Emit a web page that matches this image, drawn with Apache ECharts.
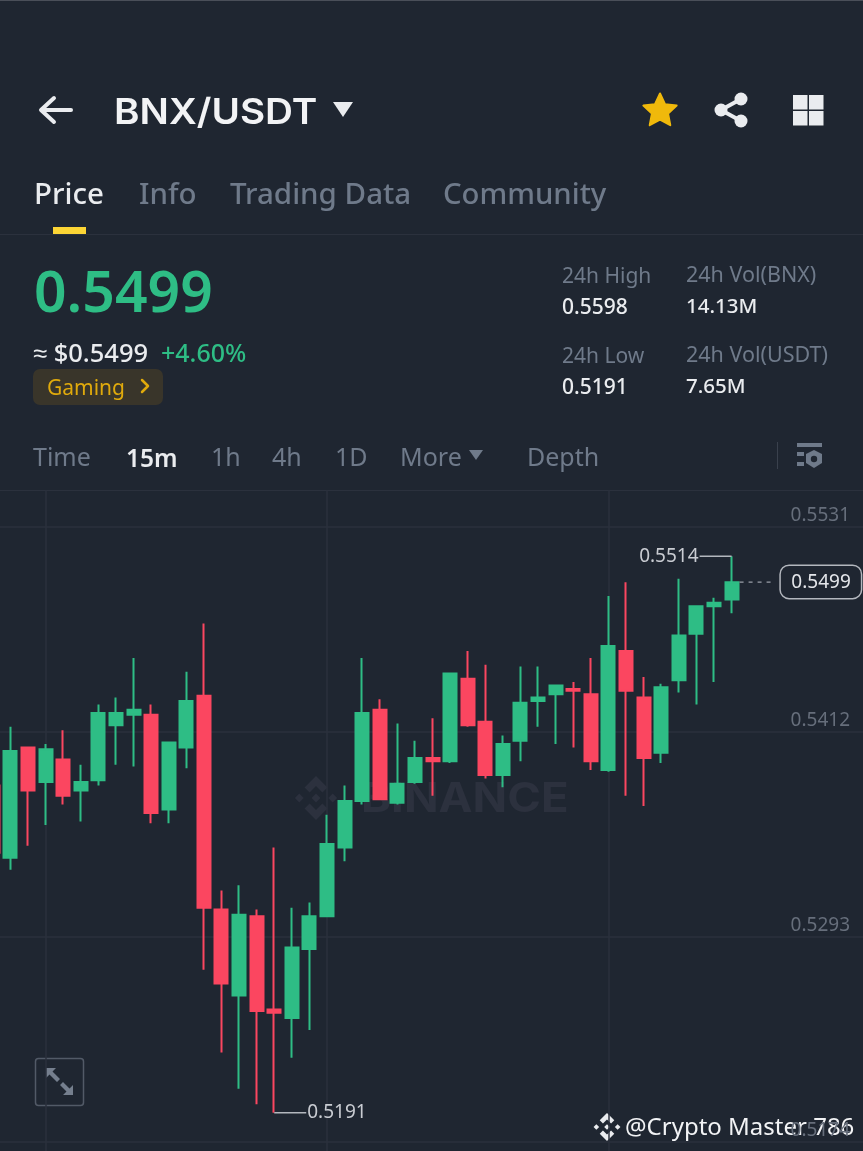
<!DOCTYPE html>
<html>
<head>
<meta charset="utf-8">
<style>
html, body { margin: 0; padding: 0; background: #1f2631; }
#main { width: 863px; height: 1151px; }
</style>
<script src="https://cdn.jsdelivr.net/npm/echarts@6/dist/echarts.min.js"></script>
</head>
<body>
<div id="main"></div>
<script>
// candles, oldest first (prices)
var opens = [0.5381, 0.5339, 0.5403, 0.5383, 0.5396, 0.5378, 0.5384, 0.5416, 0.5422, 0.5422, 0.5367,
    0.5403, 0.5433, 0.5309, 0.5259, 0.5305, 0.5251, 0.5246, 0.5286, 0.5305, 0.5345, 0.5372, 0.5425,
    0.5371, 0.5383, 0.5397, 0.5395, 0.5443, 0.5418, 0.5387, 0.5407, 0.5430, 0.5434, 0.5437, 0.5434,
    0.5390, 0.5459, 0.5432, 0.5400, 0.5442, 0.5469, 0.5485, 0.5489];
var closes = [0.5342, 0.5401, 0.5378, 0.5402, 0.5375, 0.5383, 0.5423, 0.5423, 0.5425, 0.5365, 0.5406,
    0.5430, 0.5310, 0.5266, 0.5306, 0.5250, 0.5249, 0.5287, 0.5305, 0.5347, 0.5372, 0.5423, 0.5373,
    0.5382, 0.5397, 0.5395, 0.5446, 0.5416, 0.5387, 0.5405, 0.5429, 0.5432, 0.5439, 0.5436, 0.5395,
    0.5462, 0.5436, 0.5397, 0.5438, 0.5468, 0.5485, 0.5487, 0.5499];
var lows = [0.5339, 0.5332, 0.5346, 0.5358, 0.5370, 0.5360, 0.5381, 0.5393, 0.5392, 0.5359, 0.5359,
    0.5391, 0.5274, 0.5226, 0.5205, 0.5196, 0.5191, 0.5223, 0.5239, 0.5305, 0.5337, 0.5370, 0.5373,
    0.5370, 0.5382, 0.5375, 0.5394, 0.5415, 0.5385, 0.5380, 0.5395, 0.5415, 0.5405, 0.5403, 0.5390,
    0.5389, 0.5375, 0.5369, 0.5394, 0.5435, 0.5428, 0.5441, 0.5481];
var highs = [0.5384, 0.5415, 0.5403, 0.5405, 0.5413, 0.5393, 0.5428, 0.5432, 0.5455, 0.5428, 0.5406,
    0.5447, 0.5475, 0.5320, 0.5323, 0.5309, 0.5345, 0.5310, 0.5313, 0.5364, 0.5381, 0.5455, 0.5431,
    0.5417, 0.5407, 0.5420, 0.5446, 0.5459, 0.5451, 0.5410, 0.5450, 0.5450, 0.5439, 0.5441, 0.5455,
    0.5491, 0.5499, 0.5444, 0.5440, 0.5501, 0.5485, 0.5490, 0.5514];
var priceTicks = [0.5531, 0.5412, 0.5293, 0.5174];
var priceMin = 0.51688;
var priceMax = 0.55525;
var timeLines = [3, 19, 35];
var slotCount = 50;
var lastPrice = 0.5499;

var bg = '#1f2631', line = '#2b313d', green = '#2ebd85', red = '#fb4660';
var white = '#eaecef', grey = '#6f7a8a', font = '"Noto Sans", sans-serif', wide = 'Inter, sans-serif';

var slots = [];
for (var s = 0; s < slotCount; s++) slots.push(s);

var candles = opens.map(function (o, i) {
    return [o, closes[i], lows[i], highs[i]];
});
var lastIdx = opens.length - 1;
var lowIdx = lows.indexOf(Math.min.apply(null, lows));
var highIdx = highs.indexOf(Math.max.apply(null, highs));

// text placed by its centre line
function txt(t, x, y, size, color, weight, family, stretch) {
    return {
        type: 'text', silent: true, x: x, y: y, scaleX: stretch || 1,
        style: { text: t, fontFamily: family || font, fontSize: size, fontWeight: weight || 400, fill: color, verticalAlign: 'middle' }
    };
}
function box(x, y, w, h, fill, r) {
    return { type: 'rect', silent: true, shape: { x: x, y: y, width: w, height: h, r: r || 0 }, style: { fill: fill } };
}
function poly(points, fill) {
    return { type: 'polygon', silent: true, shape: { points: points }, style: { fill: fill } };
}
function stroke(points, color, w) {
    return { type: 'polyline', silent: true, shape: { points: points }, style: { stroke: color, lineWidth: w, fill: null, lineCap: 'round', lineJoin: 'round' } };
}
function circle(x, y, r, fill) {
    return { type: 'circle', silent: true, shape: { cx: x, cy: y, r: r }, style: { fill: fill } };
}
// binance mark: middle diamond, two side diamonds, two chevrons
function logo(cx, cy, r, color) {
    function p(list) {
        return poly(list.map(function (q) { return [cx + q[0] * r, cy + q[1] * r]; }), color);
    }
    var d = 0.2;
    return [
        p([[0, -d], [d, 0], [0, d], [-d, 0]]),
        p([[-0.76, -d], [-0.76 + d, 0], [-0.76, d], [-0.76 - d, 0]]),
        p([[0.76, -d], [0.76 + d, 0], [0.76, d], [0.76 - d, 0]]),
        p([[0, -1], [0.52, -0.48], [0.29, -0.25], [0, -0.54], [-0.29, -0.25], [-0.52, -0.48]]),
        p([[0, 1], [0.52, 0.48], [0.29, 0.25], [0, 0.54], [-0.29, 0.25], [-0.52, 0.48]])
    ];
}
function star(cx, cy, R, r) {
    var pts = [];
    for (var i = 0; i < 10; i++) {
        var a = -Math.PI / 2 + i * Math.PI / 5, d = i % 2 ? r : R;
        pts.push([cx + d * Math.cos(a), cy + d * Math.sin(a)]);
    }
    return pts;
}

var ui = [
    box(0, 0, 863, 1, '#4a4f59'),
    // header
    stroke([[71, 110], [42, 110]], white, 4),
    stroke([[54, 98], [41, 110], [54, 122]], white, 4),
    txt('BNX/USDT', 114, 113, 36, '#f2f3f5', 600, wide, 1.075),
    poly([[333, 102], [353, 102], [343, 117]], white),
    { type: 'polygon', silent: true, shape: { points: star(660, 111, 17.5, 8.5) }, style: { fill: '#f0b90b', stroke: '#f0b90b', lineWidth: 2, lineJoin: 'round' } },
    stroke([[741, 99], [721, 110], [741, 121]], white, 4),
    circle(741, 99, 6.5, white), circle(721, 110, 6.5, white), circle(741, 121, 6.5, white),
    box(793, 95, 14.5, 14.5, white), box(809, 95, 14.5, 14.5, white),
    box(793, 111, 14.5, 14.5, white), box(809, 111, 14.5, 14.5, white),
    // tabs
    txt('Price', 34, 196, 29.5, white, 500),
    txt('Info', 139, 196, 29.5, grey, 500),
    txt('Trading Data', 230, 196, 29.5, grey, 500),
    txt('Community', 443, 196, 29.3, grey, 500),
    box(53, 227, 33, 7, '#fcd535'),
    box(0, 234, 863, 1, line),
    // price block
    txt('0.5499', 34, 296, 57, green, 600),
    txt('≈ $0.5499', 33, 355, 25.5, white, 500),
    txt('+4.60%', 161, 355, 25, green, 500),
    box(33, 369, 130, 36, '#39352a', 7),
    txt('Gaming', 47, 389, 21, '#e0aa0c', 400),
    stroke([[142, 380], [148, 386], [142, 392]], '#e0aa0c', 2.5),
    // 24h stats
    txt('24h High', 562, 277, 21, grey, 400),
    txt('0.5598', 562, 308, 21, white, 500),
    txt('24h Vol(BNX)', 686, 276, 21.5, grey, 400),
    txt('14.13M', 686, 307, 20.5, white, 500),
    txt('24h Low', 562, 357, 21, grey, 400),
    txt('0.5191', 562, 388, 21, white, 500),
    txt('24h Vol(USDT)', 686, 356, 21.5, grey, 400),
    txt('7.65M', 686, 387, 20.5, white, 500),
    // interval row
    txt('Time', 33, 459, 25, grey, 400),
    txt('15m', 126, 460, 24.5, white, 600),
    txt('1h', 211, 459, 25, grey, 400),
    txt('4h', 272, 459, 25, grey, 400),
    txt('1D', 335, 459, 25, grey, 400),
    txt('More', 400, 459, 25, grey, 400),
    poly([[469, 450], [483, 450], [476, 460]], grey),
    txt('Depth', 527, 459, 25, grey, 400),
    box(777, 442, 1, 27, '#3a414d'),
    box(797, 443, 25, 4, grey),
    box(797, 452, 7, 4, grey),
    box(797, 462, 7, 4, grey),
    poly([[814, 450], [822, 454], [822, 463], [814, 468], [806, 463], [806, 454]], grey),
    circle(814, 459, 3.2, bg),
    box(0, 490, 863, 1, line),
    // watermark in the chart
    txt('BINANCE', 361, 800, 41, '#2c313e', 700, wide, 1.11),
    // expand button
    { type: 'rect', silent: true, shape: { x: 35.5, y: 1058.5, width: 48, height: 47, r: 3 }, style: { fill: bg, stroke: '#525a67', lineWidth: 1.5 } },
    poly([[46, 1068], [56, 1068], [52.5, 1071.5], [60, 1079], [57, 1082], [49.5, 1074.5], [46, 1078]], '#757f8e'),
    poly([[73, 1095], [63, 1095], [66.5, 1091.5], [60, 1085], [63, 1082], [69.5, 1088.5], [73, 1085]], '#757f8e'),
    // bottom right credit
    txt('@Crypto Master 786', 625, 1128, 24, '#f2f3f5', 400)
].concat(logo(316, 798, 22, '#2c313e')).concat(logo(607, 1127, 14, '#eaecef'));

var chart = echarts.init(document.getElementById('main'), null, { renderer: 'canvas' });

chart.setOption({
    animation: false,
    backgroundColor: bg,
    graphic: { elements: ui },
    grid: { left: -16, top: 490, width: 879.5, height: 661, containLabel: false, outerBoundsMode: 'none' },
    xAxis: {
        type: 'category',
        data: slots,
        boundaryGap: true,
        axisLine: { show: false },
        axisTick: { show: false, alignWithLabel: true },
        axisLabel: { show: false },
        splitLine: {
            show: true,
            alignWithLabel: true,
            interval: function (i) { return timeLines.indexOf(i) >= 0; },
            lineStyle: { color: line, width: 1.5 }
        }
    },
    yAxis: {
        type: 'value',
        position: 'right',
        scale: true,
        min: priceMin,
        max: priceMax,
        axisLine: { show: false },
        axisTick: { show: false, customValues: priceTicks },
        axisLabel: {
            inside: true,
            margin: 13.5,
            customValues: priceTicks,
            verticalAlign: 'bottom',
            lineHeight: 23,
            color: '#666e7b',
            fontFamily: font,
            fontSize: 19,
            formatter: function (v) { return v.toFixed(4); }
        },
        splitLine: { show: true, lineStyle: { color: line, width: 1.5 } }
    },
    series: [{
        type: 'candlestick',
        data: candles,
        barWidth: 13.5,
        itemStyle: { color: green, color0: red, borderColor: green, borderColor0: red, borderWidth: 2 }
    }, {
        // high / low / last price notes hung off the candles
        type: 'custom',
        silent: true,
        clip: false,
        z: 5,
        data: [[highIdx, highs[highIdx], -1], [lowIdx, lows[lowIdx], 1], [lastIdx, lastPrice, 0]],
        renderItem: function (params, api) {
            var p = api.coord([api.value(0), api.value(1)]);
            var dir = api.value(2);
            var price = api.value(1).toFixed(4);
            if (dir === 0) {
                return {
                    type: 'group',
                    children: [{
                        type: 'line',
                        shape: { x1: p[0] + 8, y1: p[1], x2: p[0] + 40, y2: p[1] },
                        style: { stroke: '#9a9fa8', lineWidth: 1.2, lineDash: [4, 5] }
                    }, {
                        type: 'rect',
                        shape: { x: p[0] + 48.5, y: p[1] - 17, width: 81.5, height: 33.5, r: 9 },
                        style: { fill: bg, stroke: '#b3b7be', lineWidth: 1.5 }
                    }, {
                        type: 'text',
                        x: p[0] + 89.5, y: p[1],
                        style: { text: price, fontFamily: font, fontSize: 19, fill: '#e4e6ea', align: 'center', verticalAlign: 'middle' }
                    }]
                };
            }
            return {
                type: 'group',
                children: [{
                    type: 'line',
                    shape: { x1: p[0], y1: p[1], x2: p[0] + dir * 32, y2: p[1] },
                    style: { stroke: '#b3b7be', lineWidth: 1.5 }
                }, {
                    type: 'text',
                    x: p[0] + dir * 33, y: p[1],
                    style: { text: price, fontFamily: font, fontSize: 19, fill: '#c9ccd2', align: dir > 0 ? 'left' : 'right', verticalAlign: 'middle' }
                }]
            };
        },
        encode: { x: 0, y: 1 }
    }]
});
</script>
</body>
</html>
